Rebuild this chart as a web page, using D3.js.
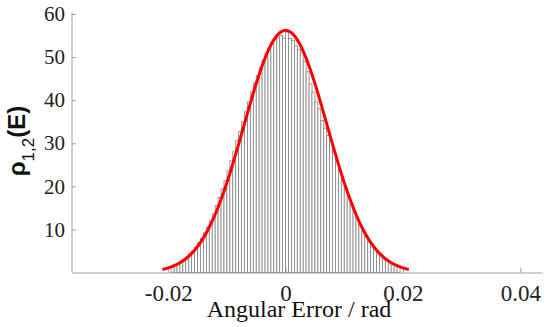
<!DOCTYPE html>
<html lang="en">
<head>
  <meta charset="UTF-8">
  <title>Angular Error Histogram</title>
  <script src="https://d3js.org/d3.v7.min.js"></script>
  <style>
    body { margin: 0; background: #fff; }
    .bar { fill: #fff; stroke: #808080; stroke-width: 0.8px; }
    .axis path, .axis line { stroke: #a0a0a0; }
    svg text { font-family: "Liberation Serif", "Times New Roman", serif; }
  </style>
</head>
<body>
  <svg width="550" height="327"></svg>

  <script>
    // histogram: bins of 0.0005 rad starting at -0.0195
    const binStart = -0.0195;
    const binWidth = 0.0005;
    const density = [
      1.4, 1.6, 2.0, 2.5, 3.0, 3.6, 4.3, 5.0, 5.9, 6.9,
      7.9, 9.2, 10.6, 12.0, 13.6, 15.5, 17.4, 19.4, 21.3, 23.6,
      25.9, 28.0, 30.6, 32.7, 35.0, 37.3, 39.6, 41.9, 44.0, 45.7,
      47.6, 49.3, 50.8, 52.2, 53.4, 54.2, 54.6, 55.0, 54.4,
      55.8, 54.3, 53.9, 52.6, 51.8, 51.4, 49.0, 46.6, 43.8, 41.9,
      39.6, 38.0, 35.3, 33.5, 31.8, 30.2, 28.0, 25.8, 23.8, 21.6,
      19.6, 17.8, 15.9, 14.2, 12.6, 11.1, 9.7, 8.5, 7.3, 6.3,
      5.4, 4.6, 3.9, 3.3, 2.8, 2.3, 1.9, 1.6, 1.3
    ];

    // fitted curve
    const curveX = [-0.021, -0.020, -0.019, -0.018, -0.017, -0.016, -0.015, -0.014, -0.013, -0.012,
      -0.011, -0.010, -0.009, -0.008, -0.007, -0.006, -0.005, -0.004, -0.003, -0.002, -0.001, 0,
      0.001, 0.002, 0.003, 0.004, 0.005, 0.006, 0.007, 0.008, 0.009, 0.010, 0.011,
      0.012, 0.013, 0.014, 0.015, 0.016, 0.017, 0.018, 0.019, 0.020, 0.021];
    const curveY = [0.71, 1.06, 1.57, 2.26, 3.2, 4.43, 6.03, 8.04, 10.51, 13.47,
      16.92, 20.84, 25.17, 29.79, 34.57, 39.32, 43.86, 47.94, 51.4, 54.01, 55.64, 56.2,
      55.64, 54.01, 51.4, 47.94, 43.86, 39.32, 34.57, 29.79, 25.17, 20.84, 16.92,
      13.47, 10.51, 8.04, 6.03, 4.43, 3.2, 2.26, 1.57, 1.06, 0.71];

    const xTicks = [-0.02, 0, 0.02, 0.04];
    const yTicks = [10, 20, 30, 40, 50, 60];

    const serif = "Liberation Serif, Times New Roman, serif";
    const svg = d3.select("svg");

    const x = d3.scaleLinear().domain([-0.0364, 0.0437]).range([72, 542]);
    const y = d3.scaleLinear().domain([0, 60]).range([272.5, 14]);

    // bars
    svg.append("g")
      .selectAll("rect")
      .data(density)
      .enter().append("rect")
      .attr("class", "bar")
      .attr("x", (d, i) => x(binStart + i * binWidth))
      .attr("width", (d, i) => x(binStart + (i + 1) * binWidth) - x(binStart + i * binWidth))
      .attr("y", d => y(d))
      .attr("height", d => y(0) - y(d));

    // x axis
    const xAxis = svg.append("g")
      .attr("class", "axis")
      .attr("transform", `translate(0,${y(0)})`)
      .call(d3.axisBottom(x).tickValues(xTicks).tickSize(-5).tickSizeOuter(0)
        .tickFormat(d => d === 0 ? "0" : d3.format(".2f")(d).replace("−", "-")));
    xAxis.attr("font-family", null);
    xAxis.selectAll(".tick text")
      .style("font-family", serif)
      .attr("font-size", 23)
      .attr("fill", "#222")
      .attr("dy", "0")
      .attr("y", 28);

    // y axis
    const yAxis = svg.append("g")
      .attr("class", "axis")
      .attr("transform", `translate(${x.range()[0]},0)`)
      .call(d3.axisLeft(y).tickValues(yTicks).tickSize(-4).tickSizeOuter(0));
    yAxis.attr("font-family", null);
    yAxis.select(".domain").attr("d", `M0,${y(0)}V${y(60) - 2}`);
    yAxis.selectAll(".tick text")
      .style("font-family", serif)
      .attr("font-size", 21)
      .attr("fill", "#222")
      .attr("x", -7);

    // red curve
    const line = d3.line()
      .x((d, i) => x(curveX[i]))
      .y(d => y(d))
      .curve(d3.curveCatmullRom);
    svg.append("path")
      .datum(curveY)
      .attr("d", line)
      .attr("fill", "none")
      .attr("stroke", "#ff0000")
      .attr("stroke-width", 3);

    // labels
    svg.append("text")
      .attr("x", 299)
      .attr("y", 317)
      .attr("text-anchor", "middle")
      .style("font-family", serif)
      .attr("font-size", 24)
      .attr("fill", "#111")
      .text("Angular Error / rad");

    const yl = svg.append("text")
      .attr("transform", "translate(25,141) rotate(-90)")
      .attr("text-anchor", "middle")
      .style("font-family", "Liberation Sans, Arial, sans-serif")
      .attr("font-size", 24)
      .attr("font-weight", "bold")
      .attr("fill", "#111");
    yl.append("tspan").text("ρ");
    yl.append("tspan").attr("font-size", 17).attr("font-weight", "normal").attr("dy", 9).text("1,2");
    yl.append("tspan").attr("dy", -9).text("(E)");
  </script>
</body>
</html>
